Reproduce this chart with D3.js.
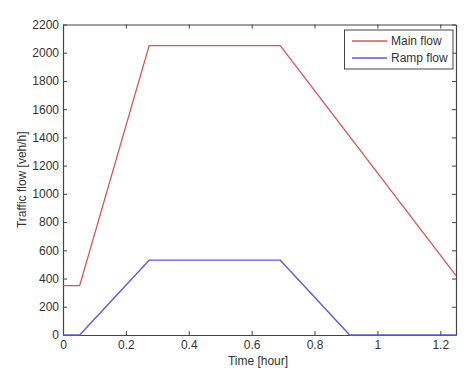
<!DOCTYPE html>
<html><head><meta charset="utf-8">
<script src="https://cdn.jsdelivr.net/npm/d3@7"></script>
<style>body{margin:0;background:#fff;} text{font-family:"Liberation Sans",Arial,sans-serif;}</style>
</head><body>
<svg id="c" width="474" height="379"></svg>
<script>
const mainX = [0, 0.053, 0.274, 0.691, 1.25];
const mainY = [350, 350, 2050, 2050, 420];
const rampX = [0, 0.053, 0.274, 0.691, 0.912, 1.25];
const rampY = [0, 0, 530, 530, 0, 0];
const xTicks = [0, 0.2, 0.4, 0.6, 0.8, 1, 1.2];
const yTicks = [0,200,400,600,800,1000,1200,1400,1600,1800,2000,2200];
const seriesNames = ["Main flow", "Ramp flow"];
const colors = ["#d95555", "#5a5ad6"];

(function(){
const svg = d3.select("#c");
const L = 63, R = 456, T = 24.5, B = 335;
const x = d3.scaleLinear().domain([0,1.25]).range([L,R]);
const y = d3.scaleLinear().domain([0,2200]).range([B,T]);
const axisColor = "#444";
const fs = "12px";

const g = svg.append("g");
const axBottom = g.append("g").attr("transform",`translate(0,${B})`)
  .call(d3.axisBottom(x).tickValues(xTicks).tickSizeInner(-4).tickSizeOuter(0).tickPadding(5).tickFormat(d=>String(d)));
const axTop = g.append("g").attr("transform",`translate(0,${T})`)
  .call(d3.axisTop(x).tickValues(xTicks).tickSizeInner(-4).tickSizeOuter(0).tickFormat(""));
const axLeft = g.append("g").attr("transform",`translate(${L},0)`)
  .call(d3.axisLeft(y).tickValues(yTicks).tickSizeInner(-4).tickSizeOuter(0).tickPadding(4).tickFormat(d=>String(d)));
const axRight = g.append("g").attr("transform",`translate(${R},0)`)
  .call(d3.axisRight(y).tickValues(yTicks).tickSizeInner(-4).tickSizeOuter(0).tickFormat(""));
[axBottom,axTop,axLeft,axRight].forEach(a=>{
  a.selectAll("path").attr("stroke",axisColor).attr("stroke-width",1.2);
  a.selectAll("line").attr("stroke",axisColor);
  a.selectAll("text").attr("fill","#333").style("font-size",fs);
});

const line = d3.line().x(d=>x(d[0])).y(d=>y(d[1]));
const mainData = mainX.map((v,i)=>[v,mainY[i]]);
const rampData = rampX.map((v,i)=>[v,rampY[i]]);
svg.append("path").datum(mainData).attr("d",line).attr("fill","none").attr("stroke",colors[0]).attr("stroke-width",1.3);
svg.append("path").datum(rampData).attr("d",line).attr("fill","none").attr("stroke",colors[1]).attr("stroke-width",1.3);

svg.append("text").attr("x",258).attr("y",365).attr("text-anchor","middle").style("font-size",fs).attr("fill","#333").text("Time [hour]");
svg.append("text").attr("transform",`translate(26,${(T+B)/2}) rotate(-90)`).attr("text-anchor","middle").style("font-size",fs).attr("fill","#333").text("Traffic flow [veh/h]");

const lg = svg.append("g");
lg.append("rect").attr("x",344.5).attr("y",30).attr("width",108.5).attr("height",39).attr("fill","#fff").attr("stroke",axisColor).attr("stroke-width",1);
seriesNames.forEach((n,i)=>{
  const yy = 41 + i*17;
  lg.append("line").attr("x1",352).attr("x2",387).attr("y1",yy).attr("y2",yy).attr("stroke",colors[i]).attr("stroke-width",1.3);
  lg.append("text").attr("x",391).attr("y",yy+4.2).style("font-size",fs).attr("fill","#333").text(n);
});
})();
</script>
</body></html>
